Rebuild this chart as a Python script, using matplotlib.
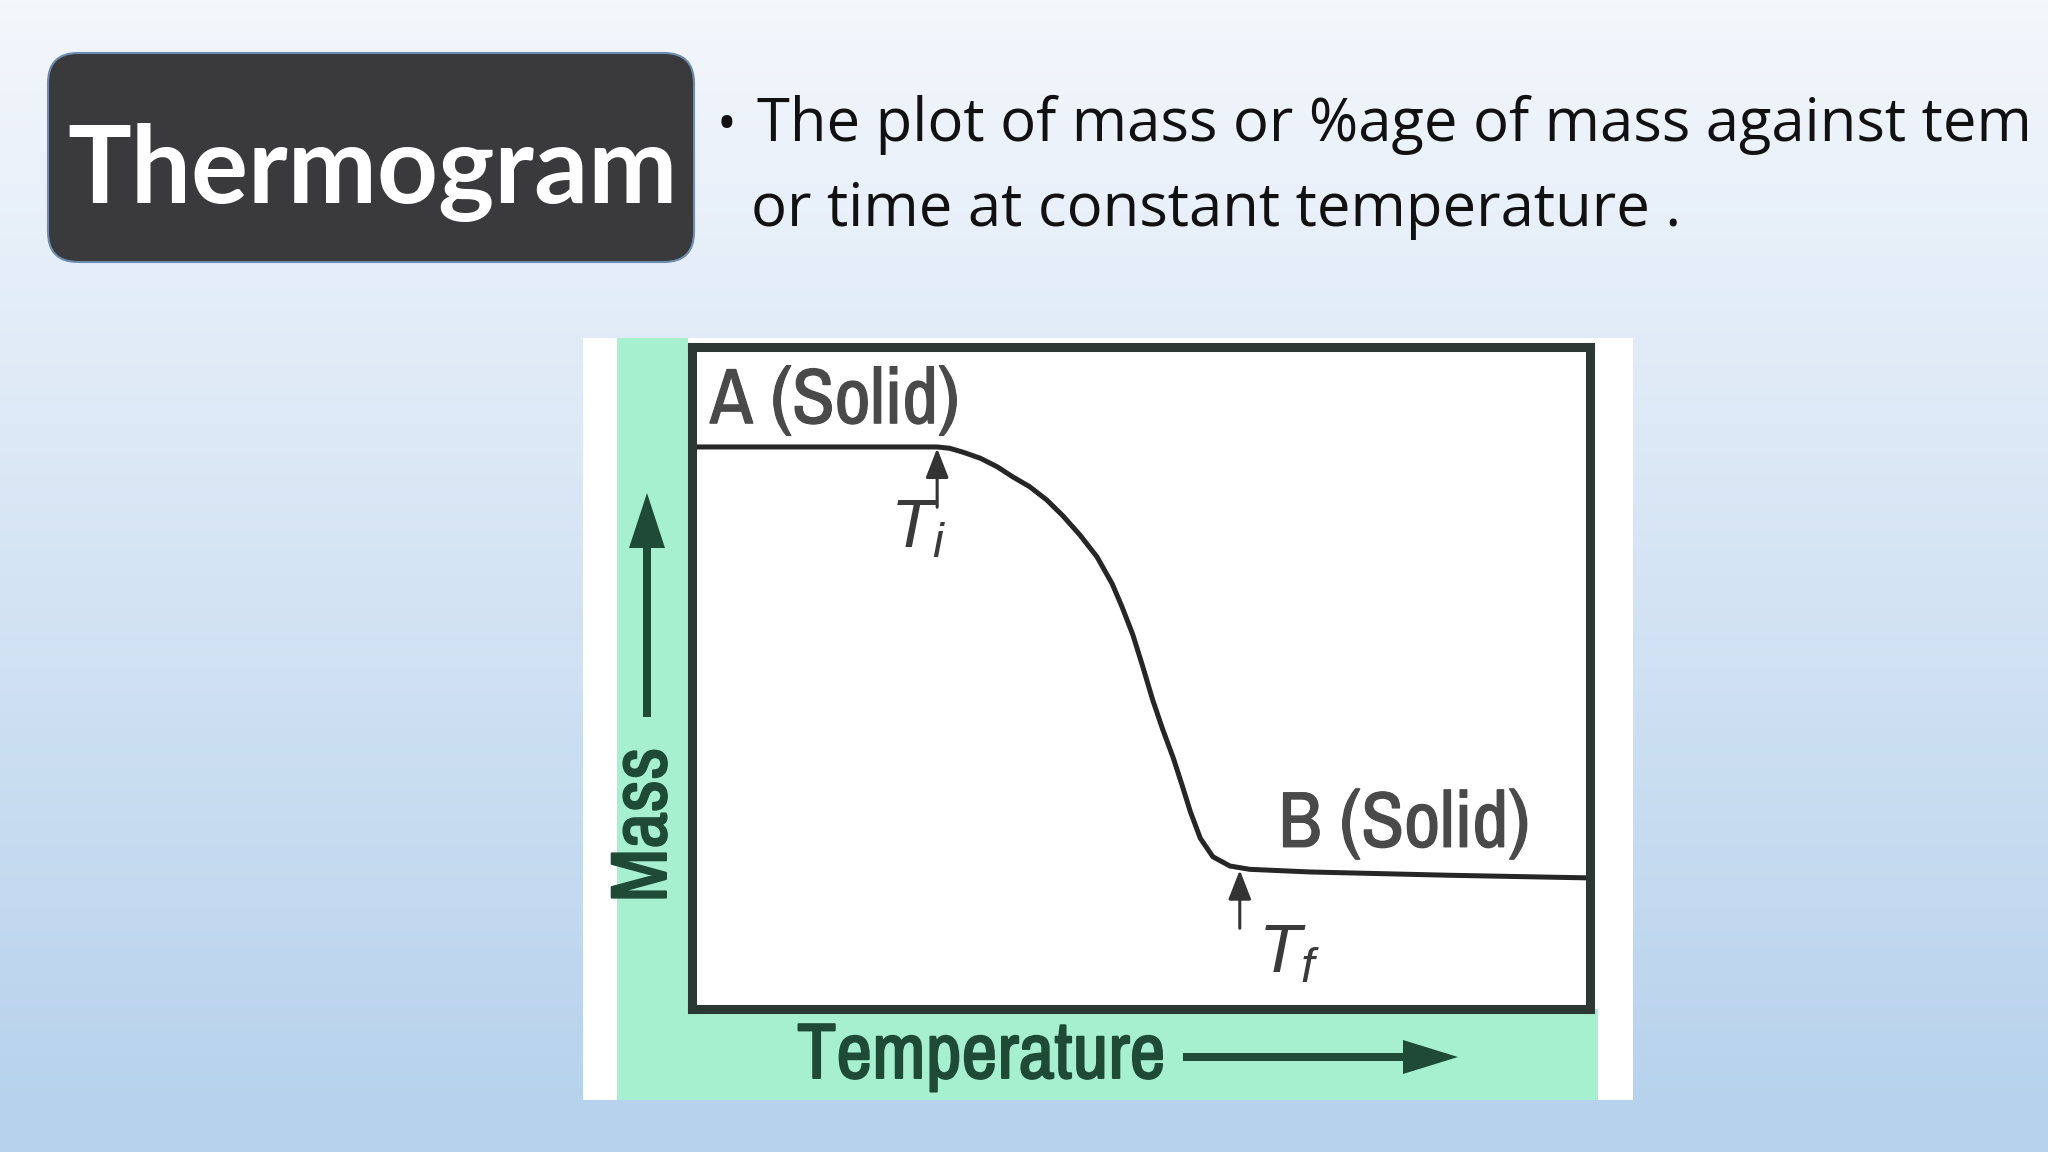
import matplotlib
matplotlib.use("Agg")
import matplotlib.pyplot as plt
import matplotlib.patheffects as pe
import numpy as np
from matplotlib import font_manager
from matplotlib.patches import FancyBboxPatch, Rectangle
from matplotlib.colors import LinearSegmentedColormap

# thermogram curve (temperature 0-100, mass 0-100 in frame units)
temperature = [0, 27.3, 28.7, 30.2, 32.1, 34.0, 35.7, 37.6, 39.5, 41.3, 43.2, 45.1,
               46.8, 47.9, 49.1, 50.2, 51.3, 52.4, 53.6, 54.6, 55.5, 56.6, 58.0,
               59.9, 62.1, 68.8, 84.4, 100]
mass = [84.9, 84.9, 84.7, 84.1, 83.2, 81.9, 80.4, 78.9, 76.9, 74.5, 71.6, 68.3,
        64.2, 60.7, 56.5, 51.7, 46.7, 42.3, 37.9, 33.7, 29.8, 25.8, 23.0,
        21.6, 21.1, 20.7, 20.2, 19.8]

# onset / final temperatures
t_initial = 27.3
t_final = 61.0

title = "Thermogram"
bullet_lines = ["The plot of mass or %age of mass against tem",
                "or time at constant temperature ."]
label_a = "A (Solid)"
label_b = "B (Solid)"
x_label = "Temperature"
y_label = "Mass"

W, H = 2048, 1152
fig = plt.figure(figsize=(20.48, 11.52), dpi=100)
renderer = fig.canvas.get_renderer()


def fit(t, target, vertical=False):
    # scale font so the text spans `target` pixels
    bb = t.get_window_extent(renderer)
    size = bb.height if vertical else bb.width
    t.set_fontsize(t.get_fontsize() * target / size)


# a condensed face if one is installed, else plain Liberation Sans
names = sorted({f.name for f in font_manager.fontManager.ttflist})
narrow_name = next((n for n in names if "Narrow" in n or "Condensed" in n), None)
narrow = [narrow_name, "Liberation Sans"] if narrow_name else ["Liberation Sans"]

# slide background (pixel coordinates)
bg = fig.add_axes([0, 0, 1, 1], zorder=0)
bg.set_xlim(0, W)
bg.set_ylim(H, 0)
bg.axis("off")
cmap = LinearSegmentedColormap.from_list("slide", ["#f4f7fc", "#b5d1ec"])
grad = np.linspace(0, 1, 256).reshape(-1, 1)
bg.imshow(grad, extent=[0, W, H, 0], aspect="auto", cmap=cmap, zorder=0)

# title box
bg.add_patch(FancyBboxPatch((48, 53), 646, 209, boxstyle="round,pad=0,rounding_size=30",
                            fc="#3a393b", ec="#6d8db0", lw=1.5, zorder=1))
t = bg.text(373, 203, title, color="white", fontsize=77, fontweight="bold",
            family=["Lato", "DejaVu Sans"], ha="center", va="baseline", zorder=2)
fit(t, 611)

# bullet text
txt_font = ["Open Sans", "Noto Sans", "DejaVu Sans"]
bg.text(717, 141, "\u2022", fontsize=38, family=txt_font, color="#111111", va="baseline")
t1 = bg.text(757, 141, bullet_lines[0], fontsize=43, family=txt_font, color="#111111",
             va="baseline")
t2 = bg.text(751, 226, bullet_lines[1], fontsize=43, family=txt_font, color="#111111",
             va="baseline")
fit(t2, 930)
t1.set_fontsize(min(t2.get_fontsize(), t1.get_fontsize() * 1288 / t1.get_window_extent(renderer).width))

# figure panel: white margin + mint strips
green = "#a6efcf"
dark_green = "#1f4b36"
bg.add_patch(Rectangle((583, 338), 1050, 762, fc="white", ec="none", zorder=1))
bg.add_patch(Rectangle((617, 338), 71, 762, fc=green, ec="none", zorder=1))
bg.add_patch(Rectangle((617, 1009), 981, 91, fc=green, ec="none", zorder=1))

heavy_green = [pe.withStroke(linewidth=1.4, foreground=dark_green)]
tm = bg.text(644, 825, y_label, rotation=90, fontsize=50, fontweight="bold", family=narrow,
             color=dark_green, ha="center", va="center", zorder=2, path_effects=heavy_green)
fit(tm, 155, vertical=True)
bg.arrow(647, 717, 0, -224, width=8, head_width=36, head_length=55,
         length_includes_head=True, fc=dark_green, ec="none", zorder=2)
tt = bg.text(797, 1078, x_label, fontsize=50, fontweight="bold", family=narrow,
             color=dark_green, va="baseline", zorder=2, path_effects=heavy_green)
fit(tt, 368)
bg.arrow(1183, 1057, 275, 0, width=8, head_width=34, head_length=55,
         length_includes_head=True, fc=dark_green, ec="none", zorder=2)

# thermogram axes
ax = fig.add_axes([692 / W, 1 - 1009 / H, 898 / W, 662 / H], zorder=1)
ax.set_facecolor("white")
ax.plot(temperature, mass, color="#262626", lw=3.6, solid_capstyle="butt",
        solid_joinstyle="round")
ax.set_xlim(0, 100)
ax.set_ylim(0, 100)
ax.set_xticks([])
ax.set_yticks([])
for s in ax.spines.values():
    s.set_linewidth(6.5)
    s.set_color("#2b3833")

heavy_gray = [pe.withStroke(linewidth=0.9, foreground="#4a4a4a")]
ta = ax.text(2.0, 88.5, label_a, fontsize=43, fontweight="bold", family=narrow,
             color="#4a4a4a", va="baseline", path_effects=heavy_gray)
fit(ta, 250)
tb = ax.text(65.3, 24.5, label_b, fontsize=43, fontweight="bold", family=narrow,
             color="#4a4a4a", va="baseline", path_effects=heavy_gray)
fit(tb, 252)

plt.rcParams["mathtext.fontset"] = "custom"
plt.rcParams["mathtext.it"] = "Liberation Sans:italic"
plt.rcParams["mathtext.rm"] = "Liberation Sans"

arrow_kw = dict(arrowstyle="-|>,head_length=0.9,head_width=0.35", color="#333333",
                lw=2.2, shrinkA=0, shrinkB=0, mutation_scale=20)
ax.annotate("", xy=(t_initial, 84.7), xytext=(t_initial, 75.8), arrowprops=arrow_kw)
ax.annotate("", xy=(t_final, 21.0), xytext=(t_final, 12.2), arrowprops=arrow_kw)
ax.text(22.0, 69.8, r"$T_i$", fontsize=50, color="#3a3a3a", va="baseline")
ax.text(63.0, 5.6, r"$T_f$", fontsize=50, color="#3a3a3a", va="baseline")

fig.savefig("out.png", dpi=100)
